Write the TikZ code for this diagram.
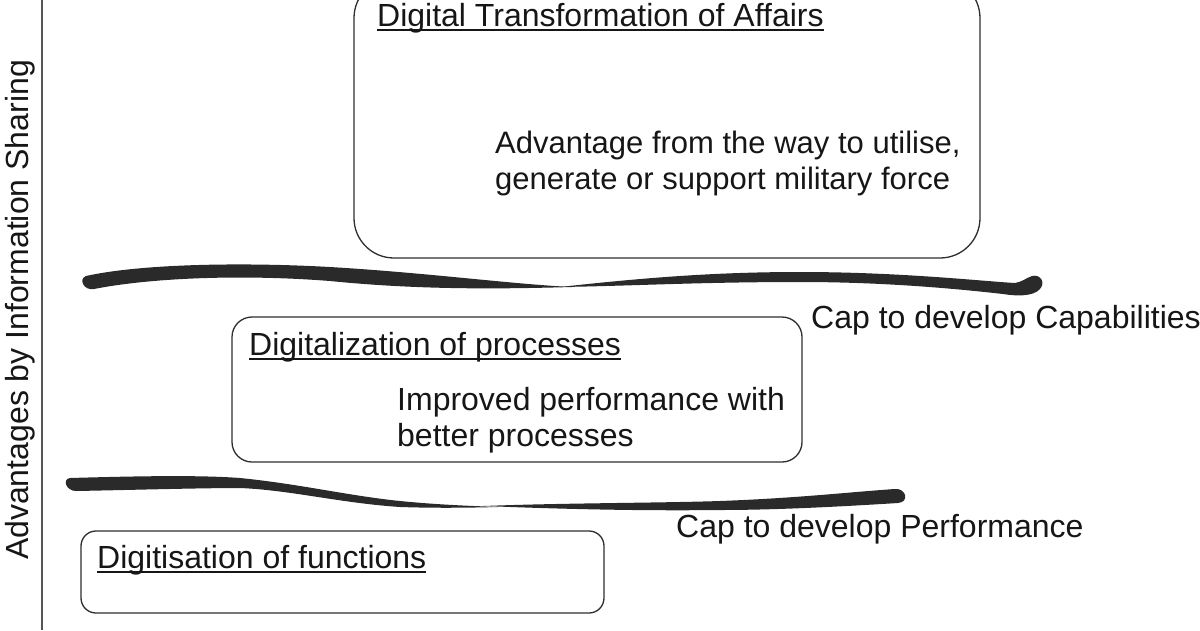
\documentclass[tikz,border=0pt]{standalone}
\usepackage{fontspec}
\setmainfont{Liberation Sans}
\usetikzlibrary{positioning}
\definecolor{ink}{HTML}{161616}
\definecolor{brush}{HTML}{2A2A2A}
\definecolor{frame}{HTML}{2E2E2E}
\definecolor{axis}{HTML}{555555}

\begin{document}
\begin{tikzpicture}[x=1pt,y=-1pt,
  every node/.style={inner sep=0pt,text=ink,font=\fontsize{32}{36}\selectfont},
  frm/.style={draw=frame,line width=1.3pt},
  uline/.style={draw=ink,line width=1.4pt},
  stroke/.style={fill=brush}]
  \useasboundingbox (0,0) rectangle (1200,630);

  \draw[axis,line width=1.5pt] (42,0) -- (42,630);
  \node[rotate=90,anchor=base] (ylab) at (28,310) {Advantages by Information Sharing};

  \draw[frm,rounded corners=40pt] (354,-22) rectangle (980,258);
  \draw[frm,rounded corners=20pt] (232,317) rectangle (802,462);
  \draw[frm,rounded corners=15pt] (81,531) rectangle (604,613);

  \node[anchor=base west] (affairs) at (377,26) {Digital Transformation of Affairs};
  \node[anchor=base west,font=\fontsize{31}{36}\selectfont] (force1) at (495,153) {Advantage from the way to utilise,};
  \node[anchor=base west,font=\fontsize{31}{36}\selectfont] (force2) at ([yshift=-36pt]force1.base west) {generate or support military force};

  \node[anchor=base west] (procs) at (249,355) {Digitalization of processes};
  \node[anchor=base west] (perf1) at (397,410) {Improved performance with};
  \node[anchor=base west] (perf2) at ([yshift=-36pt]perf1.base west) {better processes};

  \node[anchor=base west] (funcs) at (97,568) {Digitisation of functions};

  \draw[uline] ([yshift=-4pt]affairs.base west) -- ([yshift=-4pt]affairs.base east);
  \draw[uline] ([yshift=-4pt]procs.base west) -- ([yshift=-4pt]procs.base east);
  \draw[uline] ([yshift=-4pt]funcs.base west) -- ([yshift=-4pt]funcs.base east);

  % brush strokes
  \fill[stroke] (86,276) .. controls (140,264) and (240,262) .. (330,267)
    .. controls (430,273) and (510,284) .. (572,287)
    .. controls (500,289) and (420,290) .. (330,281)
    .. controls (240,274) and (150,278) .. (94,289)
    .. controls (84,291) and (78,279) .. (86,276) -- cycle;
  \fill[stroke] (560,287) .. controls (650,277) and (720,272) .. (800,272)
    .. controls (900,272) and (980,281) .. (1015,283)
    .. controls (1022,282) and (1026,278) .. (1032,276)
    .. controls (1040,274) and (1046,282) .. (1040,289)
    .. controls (1033,297) and (1015,296) .. (1003,294)
    .. controls (950,288) and (880,282) .. (800,282)
    .. controls (700,282) and (630,286) .. (560,287) -- cycle;
  \fill[stroke] (70,478) .. controls (140,476) and (200,475) .. (240,478)
    .. controls (300,484) and (350,496) .. (400,501)
    .. controls (440,505) and (475,506) .. (498,507)
    .. controls (460,508) and (430,508) .. (400,507)
    .. controls (340,503) and (290,490) .. (240,488)
    .. controls (200,488) and (130,490) .. (76,491)
    .. controls (66,491) and (62,479) .. (70,478) -- cycle;
  \fill[stroke] (484,506) .. controls (560,503) and (660,503) .. (720,501)
    .. controls (800,498) and (850,492) .. (895,489)
    .. controls (906,488) and (910,502) .. (898,503)
    .. controls (850,506) and (780,510) .. (720,510)
    .. controls (640,511) and (560,509) .. (484,506) -- cycle;

  \node[anchor=base west] (capab) at (811,328) {Cap to develop Capabilities};
  \node[anchor=base west] (capperf) at (676,537) {Cap to develop Performance};
\end{tikzpicture}
\end{document}
